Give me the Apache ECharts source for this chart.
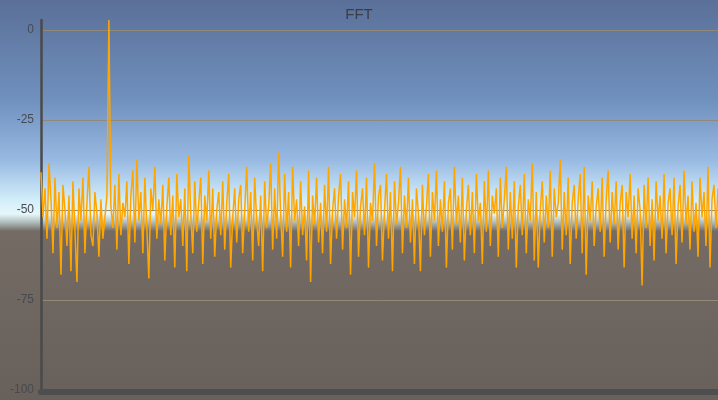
<!DOCTYPE html>
<html>
<head>
<meta charset="utf-8">
<script src="https://cdn.jsdelivr.net/npm/echarts@6/dist/echarts.min.js"></script>
<style>html,body{margin:0;padding:0;}#c{width:718px;height:400px;}</style>
</head>
<body>
<div id="c"></div>
<script>
const titleText = 'FFT';
const yTicks = [0, -25, -50, -75, -100];
const seriesName = 'FFT';
const fftDb = [
-39.5,-52,-44,-58,-37,-47,-62,-41,-55,-45,
-68,-43,-50,-60,-46,-67,-42,-56,-70,-44,
-53,-41,-62,-48,-38,-57,-60,-45,-51,-63,
-47,-58,-52,-46,2.8,-49,-55,-43,-61,-40,
-57,-48,-52,-42,-65,-46,-39,-59,-36,-53,
-45,-62,-41,-55,-69,-44,-50,-38,-58,-47,
-54,-43,-64,-49,-41,-57,-46,-66,-40,-52,
-47,-60,-44,-67,-35,-51,-62,-42,-56,-48,
-41,-65,-46,-53,-39,-58,-44,-63,-50,-45,
-57,-42,-61,-48,-40,-66,-52,-44,-59,-47,
-43,-62,-50,-38,-56,-45,-64,-41,-53,-60,
-46,-67,-42,-55,-49,-37,-61,-44,-58,-34,
-51,-63,-40,-56,-45,-66,-38,-53,-47,-60,
-42,-57,-49,-64,-39,-70,-46,-54,-41,-59,
-48,-62,-43,-56,-38,-65,-50,-44,-58,-46,
-40,-61,-47,-55,-42,-68,-45,-52,-39,-63,
-49,-44,-57,-41,-66,-48,-53,-37,-60,-46,
-43,-64,-50,-40,-58,-45,-67,-42,-54,-48,
-38,-62,-46,-55,-41,-59,-47,-65,-44,-51,
-67,-43,-57,-49,-40,-63,-45,-53,-39,-60,
-47,-56,-42,-66,-48,-44,-61,-38,-54,-46,
-59,-41,-64,-50,-43,-57,-45,-62,-40,-53,
-48,-65,-42,-56,-39,-60,-46,-51,-44,-63,
-41,-55,-47,-38,-61,-45,-58,-42,-66,-49,
-43,-57,-40,-62,-47,-53,-37,-64,-45,-66,
-50,-42,-59,-46,-55,-39,-63,-44,-52,-48,
-36,-61,-45,-57,-41,-65,-48,-43,-58,-47,
-40,-62,-38,-68,-46,-53,-42,-60,-49,-44,
-56,-41,-63,-47,-39,-59,-45,-54,-42,-61,
-48,-43,-66,-45,-52,-40,-58,-46,-62,-44,
-50,-71,-43,-55,-41,-60,-47,-64,-42,-53,
-46,-58,-40,-62,-48,-44,-57,-41,-65,-49,
-43,-59,-39,-54,-46,-61,-42,-56,-48,-63,
-41,-52,-45,-60,-38,-66,-47,-43,-55,-44
];
const bins = fftDb.map((_, i) => i);

const chart = echarts.init(document.getElementById('c'));
chart.setOption({
  animation: false,
  backgroundColor: {
    type: 'linear', x: 0, y: 0, x2: 0, y2: 1,
    colorStops: [
      { offset: 0, color: '#5a7098' },
      { offset: 0.25, color: '#7090be' },
      { offset: 0.40, color: '#98b9e2' },
      { offset: 0.50, color: '#d2eefa' },
      { offset: 0.535, color: '#e6f7fa' },
      { offset: 0.555, color: '#b2bfbe' },
      { offset: 0.578, color: '#736b64' },
      { offset: 1, color: '#68605a' }
    ]
  },
  title: {
    text: titleText, left: 'center', top: 2,
    textStyle: { fontSize: 15, fontWeight: 'normal', color: '#3a3d48', fontFamily: 'Liberation Sans, Arial, sans-serif' }
  },
  legend: {
    show: true, bottom: -19, left: 'center',
    itemWidth: 14, itemHeight: 8,
    textStyle: { color: '#444', fontSize: 12 },
    data: [seriesName]
  },
  grid: { left: 41, right: 0, top: 20, bottom: 10, containLabel: false, outerBoundsMode: 'none' },
  xAxis: {
    type: 'category', data: bins, boundaryGap: false,
    offset: 2,
    axisLine: { show: true, onZero: false, lineStyle: { color: '#4e4e50', width: 6 } },
    axisTick: { show: false }, axisLabel: { show: false }, splitLine: { show: false }
  },
  yAxis: {
    type: 'value', min: -100, max: 2.78, interval: 25,
    name: '[dB]', nameLocation: 'middle', nameRotate: 90, nameGap: 33,
    nameTextStyle: { color: '#444', fontSize: 12, fontFamily: 'Liberation Sans, Arial, sans-serif' },
    axisLine: { show: true, lineStyle: { color: '#4a4a4a', width: 2.5 } },
    axisTick: { show: false },
    axisLabel: {
      color: '#474a52', fontSize: 12, margin: 7, showMaxLabel: false,
      fontFamily: 'Liberation Sans, Arial, sans-serif',
      formatter: v => (yTicks.indexOf(v) >= 0 ? String(v) : '')
    },
    splitLine: { show: true, showMaxLine: false, showMinLine: false, lineStyle: { color: '#928a78', width: 1 } }
  },
  series: [{
    name: seriesName, type: 'line', data: fftDb, showSymbol: false,
    lineStyle: { color: '#ffa500', width: 1.5 }, itemStyle: { color: '#ffa500' },
    clip: false
  }]
});
</script>
</body>
</html>
